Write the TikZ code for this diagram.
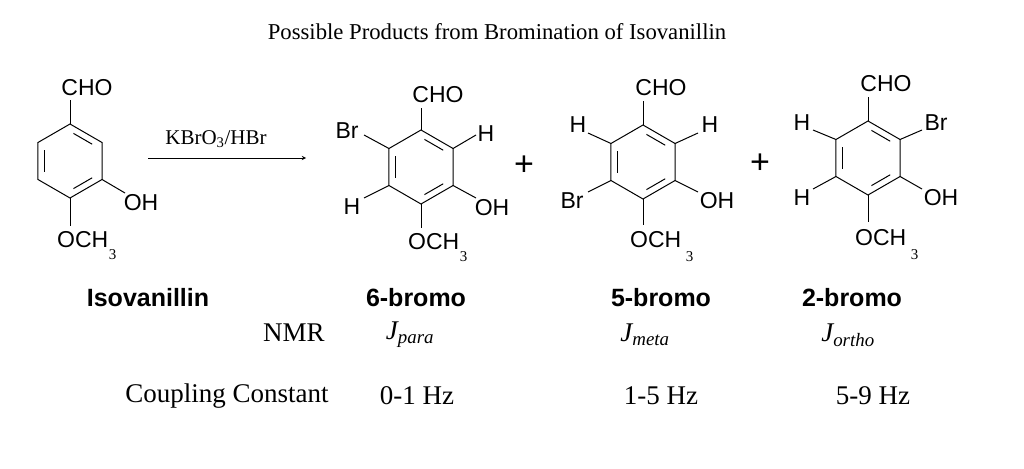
\documentclass[tikz,border=0pt]{standalone}
\usepackage{fontspec}
\setmainfont{Liberation Serif}
\newfontfamily\chem{Liberation Sans}
\usetikzlibrary{calc}
\newcommand{\mkring}[3]{%
  \coordinate (#1c) at (#2,-#3);
  \foreach \i/\a in {1/90,2/30,3/-30,4/-90,5/-150,6/150}{\coordinate (#1\i) at ($(#1c)+(\a:37)$);}
  \draw[bond] (#11)--(#12)--(#13)--(#14)--(#15)--(#16)--cycle;
  \foreach \p/\q in {1/2,3/4,5/6}{\draw[bond,shorten <=4pt,shorten >=4pt] ($(#1c)!0.8!(#1\p)$)--($(#1c)!0.8!(#1\q)$);}
}
\begin{document}
\begin{tikzpicture}[x=1pt,y=1pt,
  bond/.style={line width=1pt},
  lab/.style={font=\chem\fontsize{23}{23}\selectfont,inner sep=0pt},
  sub/.style={font=\fontsize{15}{15}\selectfont,inner sep=0pt},
  nm/.style={font=\chem\bfseries\fontsize{25}{25}\selectfont,inner sep=0pt},
  txt/.style={font=\fontsize{27}{27}\selectfont,inner sep=0pt}]
\useasboundingbox (0,0) rectangle (1024,-468);
\node[font=\fontsize{22.7}{22.7}\selectfont] (title) at (497,-32) {Possible Products from Bromination of Isovanillin};
% Isovanillin
\mkring{a}{70}{161}
\node[lab] (acho) at (87,-88) {CHO};
\draw[bond] (a1)--(70,-100);
\draw[bond] (a3)--(125,-193);
\node[lab] (aoh) at (141,-203) {OH};
\draw[bond] (a4)--(70,-226);
\node[lab,anchor=west] (aoch) at (57,-240) {OCH};
\node[sub] (a3s) at ($(aoch.east)+(4,-15)$) {3};
% arrow
\draw[line width=0.9pt,-stealth] (148,-158)--(306,-158) coordinate (arrend);
\node[font=\fontsize{21}{21}\selectfont] (reag) at (216,-139) {KBrO\textsubscript{3}/HBr};
% 6-bromo
\mkring{b}{421}{167}
\draw[bond] (b1)--(421,-108);
\node[lab] (bcho) at (438,-95) {CHO};
\draw[bond] (b6)--(364,-135);
\node[lab] (bbr) at (347,-131) {Br};
\draw[bond] (b2)--(476,-135);
\node[lab] (bh1) at (486,-134) {H};
\draw[bond] (b5)--(364,-198);
\node[lab] (bh2) at (352,-207) {H};
\draw[bond] (b3)--(476,-198);
\node[lab] (boh) at (492,-208) {OH};
\draw[bond] (b4)--(421,-228);
\node[lab,anchor=west] (boch) at (408,-242) {OCH};
\node[sub] (b3s) at ($(boch.east)+(4,-15)$) {3};
\node[font=\chem\fontsize{34}{34}\selectfont] (plus1) at (524,-166) {+};
% 5-bromo
\mkring{c}{643}{162}
\draw[bond] (c1)--(643,-101);
\node[lab] (ccho) at (661,-88) {CHO};
\draw[bond] (c6)--(588,-133);
\node[lab] (ch1) at (578,-125) {H};
\draw[bond] (c2)--(698,-133);
\node[lab] (ch2) at (710,-125) {H};
\draw[bond] (c5)--(588,-192);
\node[lab] (cbr) at (572,-201) {Br};
\draw[bond] (c3)--(698,-192);
\node[lab] (coh) at (717,-201) {OH};
\draw[bond] (c4)--(643,-225);
\node[lab,anchor=west] (coch) at (630,-240) {OCH};
\node[sub] (c3s) at ($(coch.east)+(8,-17)$) {3};
\node[font=\chem\fontsize{34}{34}\selectfont] (plus2) at (760,-164) {+};
% 2-bromo
\mkring{d}{868}{158}
\draw[bond] (d1)--(868,-97);
\node[lab] (dcho) at (886,-84) {CHO};
\draw[bond] (d6)--(813,-130);
\node[lab] (dh1) at (802,-123) {H};
\draw[bond] (d2)--(922,-130);
\node[lab] (dbr) at (936,-123) {Br};
\draw[bond] (d5)--(813,-189);
\node[lab] (dh2) at (802,-198) {H};
\draw[bond] (d3)--(922,-189);
\node[lab] (doh) at (941,-198) {OH};
\draw[bond] (d4)--(868,-222);
\node[lab,anchor=west] (doch) at (855,-238) {OCH};
\node[sub] (d3s) at ($(doch.east)+(8,-17)$) {3};
% names
\node[nm] (n1) at (148,-298) {Isovanillin};
\node[nm] (n2) at (416,-298) {6-bromo};
\node[nm] (n3) at (661,-298) {5-bromo};
\node[nm] (n4) at (852,-298) {2-bromo};
\node[txt] (nmr) at (294,-333) {NMR};
\node[txt] (j1) at (410,-335) {\itshape J\textsubscript{para}};
\node[txt] (j2) at (645,-335) {\itshape J\textsubscript{meta}};
\node[txt] (j3) at (848,-335) {\itshape J\textsubscript{ortho}};
\node[txt] (cc) at (227,-396) {Coupling Constant};
\node[txt] (v1) at (417,-396) {0-1 Hz};
\node[txt] (v2) at (661,-396) {1-5 Hz};
\node[txt] (v3) at (873,-396) {5-9 Hz};
\end{tikzpicture}
\end{document}
